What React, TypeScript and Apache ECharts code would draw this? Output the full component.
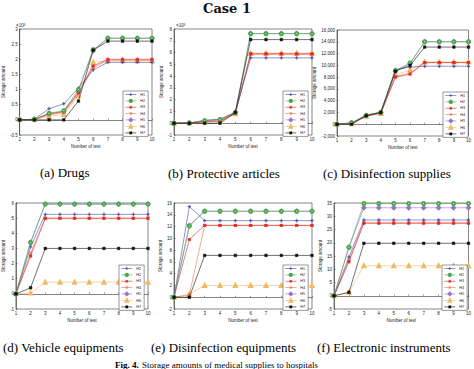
import React, { useEffect, useRef } from "react";
import * as echarts from "echarts";

// Number of test (x axis)
const tests = [1, 2, 3, 4, 5, 6, 7, 8, 9, 10];
const hospitals = ["H1", "H2", "H3", "H4", "H5", "H6", "H7"];

// (a) Drugs, in units of 10^4
const drugs = [
  [0, 0.02, 0.37, 0.53, 1.05, 1.65, 1.9, 1.9, 1.9, 1.9],
  [0, 0.02, 0.22, 0.3, 1.0, 2.32, 2.7, 2.7, 2.7, 2.7],
  [0, 0.01, 0.2, 0.27, 0.9, 1.78, 2.0, 2.0, 2.0, 2.0],
  [0, 0.01, 0.17, 0.24, 0.86, 1.72, 1.97, 1.97, 1.97, 1.97],
  [0, 0.02, 0.2, 0.28, 0.95, 2.28, 2.69, 2.69, 2.69, 2.69],
  [0, 0.01, 0.12, 0.18, 0.8, 1.9, 1.95, 1.95, 1.95, 1.95],
  [0, 0, 0, 0, 0.62, 2.3, 2.6, 2.6, 2.6, 2.6],
];
// (b) Protective articles, in units of 10^4
const protective = [
  [0, 0.02, 0.25, 0.35, 0.95, 5.55, 5.55, 5.55, 5.55, 5.55],
  [0, 0.02, 0.22, 0.32, 0.9, 7.6, 7.6, 7.6, 7.6, 7.6],
  [0, 0.01, 0.15, 0.2, 0.85, 5.9, 5.9, 5.9, 5.9, 5.9],
  [0, 0.01, 0.12, 0.18, 0.82, 5.85, 5.85, 5.85, 5.85, 5.85],
  [0, 0.02, 0.2, 0.3, 0.9, 7.62, 7.62, 7.62, 7.62, 7.62],
  [0, 0.01, 0.1, 0.15, 0.8, 5.95, 5.95, 5.95, 5.95, 5.95],
  [0, 0, 0, 0, 0.92, 7.1, 7.1, 7.1, 7.1, 7.1],
];
// (c) Disinfection supplies
const disinfSupplies = [
  [0, 200, 1550, 2050, 9300, 9700, 9850, 9850, 9850, 9850],
  [0, 250, 1500, 2000, 9100, 10400, 14000, 14000, 14000, 14000],
  [0, 150, 1400, 1850, 8000, 8500, 10500, 10500, 10500, 10500],
  [0, 150, 1450, 1900, 8100, 8700, 10450, 10450, 10450, 10450],
  [0, 250, 1500, 2000, 9000, 10300, 14000, 14000, 14000, 14000],
  [0, 100, 1350, 1800, 8400, 9200, 10550, 10550, 10550, 10550],
  [0, 0, 1450, 2000, 9000, 10000, 13100, 13100, 13100, 13100],
];
// (d) Vehicle equipments
const vehicle = [
  [0, 3.1, 5.25, 5.25, 5.25, 5.25, 5.25, 5.25, 5.25, 5.25],
  [0, 3.4, 5.93, 5.93, 5.93, 5.93, 5.93, 5.93, 5.93, 5.93],
  [0, 2.5, 5.0, 5.0, 5.0, 5.0, 5.0, 5.0, 5.0, 5.0],
  [0, 2.7, 4.97, 4.97, 4.97, 4.97, 4.97, 4.97, 4.97, 4.97],
  [0, 3.4, 5.93, 5.93, 5.93, 5.93, 5.93, 5.93, 5.93, 5.93],
  [0, 0.05, 0.77, 0.77, 0.77, 0.77, 0.77, 0.77, 0.77, 0.77],
  [0, 0.4, 3.0, 3.0, 3.0, 3.0, 3.0, 3.0, 3.0, 3.0],
];
// (e) Disinfection equipments
const disinfEquip = [
  [0, 15.4, 13.0, 13.0, 13.0, 13.0, 13.0, 13.0, 13.0, 13.0],
  [0, 12.1, 14.6, 14.6, 14.6, 14.6, 14.6, 14.6, 14.6, 14.6],
  [0, 9.8, 12.2, 12.2, 12.2, 12.2, 12.2, 12.2, 12.2, 12.2],
  [0, 0.4, 12.2, 12.2, 12.2, 12.2, 12.2, 12.2, 12.2, 12.2],
  [0, 12.2, 14.6, 14.6, 14.6, 14.6, 14.6, 14.6, 14.6, 14.6],
  [0, 0.5, 2.0, 2.0, 2.0, 2.0, 2.0, 2.0, 2.0, 2.0],
  [0, 0, 7.1, 7.1, 7.1, 7.1, 7.1, 7.1, 7.1, 7.1],
];
// (f) Electronic instruments
const electronic = [
  [0, 14.6, 28.6, 28.6, 28.6, 28.6, 28.6, 28.6, 28.6, 28.6],
  [0, 18.3, 34.8, 34.8, 34.8, 34.8, 34.8, 34.8, 34.8, 34.8],
  [0, 12.8, 27.3, 27.3, 27.3, 27.3, 27.3, 27.3, 27.3, 27.3],
  [0, 13.4, 27.7, 27.7, 27.7, 27.7, 27.7, 27.7, 27.7, 27.7],
  [0, 18.3, 33.2, 33.2, 33.2, 33.2, 33.2, 33.2, 33.2, 33.2],
  [0, 1.3, 11.3, 11.3, 11.3, 11.3, 11.3, 11.3, 11.3, 11.3],
  [0, 1.3, 19.8, 19.8, 19.8, 19.8, 19.8, 19.8, 19.8, 19.8],
];

const colors = ["#4a4ab0", "#4aa84a", "#e02525", "#f07040", "#9a70c8", "#f2b860", "#111111"];
const zOrder = [6, 7, 5, 4, 3, 2, 8];
const symbols = [
  "path://M4.3,0H5.7V4.3H10V5.7H5.7V10H4.3V5.7H0V4.3H4.3Z",
  "emptyCircle",
  "path://M4.5,0H5.5V10H4.5Z M0,4.5H10V5.5H0Z M1,0.3L9.7,9L9,9.7L0.3,1Z M9,0.3L9.7,1L1,9.7L0.3,9Z",
  "path://M1,0L5,4L9,0L10,1L6,5L10,9L9,10L5,6L1,10L0,9L4,5L0,1Z",
  "emptyDiamond",
  "emptyTriangle",
  "rect",
];

const panels = [
  { data: drugs, min: -0.5, max: 3, interval: 0.5, grid: { left: 15, top: 29, width: 137, height: 106 }, nameGap: 10 },
  { data: protective, min: -1, max: 8, interval: 1, grid: { left: 174, top: 29, width: 138, height: 106 }, nameGap: 10 },
  { data: disinfSupplies, min: -2000, max: 16000, interval: 2000, grid: { left: 337, top: 30, width: 135, height: 106 }, nameGap: 17 },
  { data: vehicle, min: -1, max: 6, interval: 1, grid: { left: 13, top: 203, width: 135, height: 106 }, nameGap: 9 },
  { data: disinfEquip, min: -2, max: 16, interval: 2, grid: { left: 174, top: 203, width: 138, height: 106 }, nameGap: 10 },
  { data: electronic, min: -5, max: 35, interval: 5, grid: { left: 334, top: 203, width: 137, height: 106 }, nameGap: 7.5 },
];

const captions = [
  { tag: "(a)", word: "Drugs", x: 40, y: 172 },
  { tag: "(b)", word: "Protective articles", x: 168, y: 173, split: "Protective " },
  { tag: "(c)", word: "Disinfection supplies", x: 323, y: 173, plain: true },
  { tag: "(d)", word: "Vehicle equipments", x: 3, y: 347, split: "Vehicle " },
  { tag: "(e)", word: "Disinfection equipments", x: 151, y: 347, split: "Disinfection " },
  { tag: "(f)", word: "Electronic instruments", x: 317, y: 347, plain: true },
];

const App: React.FC = () => {
  const ref = useRef<HTMLDivElement>(null);
  useEffect(() => {
    if (!ref.current) return;
    const chart = echarts.init(ref.current, undefined, { renderer: "svg" });
    const axisColor = "#333";
    const labelFont = { fontSize: 4.5, color: "#222", fontFamily: "Liberation Sans" };
    const grids = panels.map((p) => ({
      ...p.grid,
      show: true,
      borderColor: axisColor,
      borderWidth: 0.6,
      backgroundColor: "#fff",
    }));
    const xAxes = panels.map((p, i) => ({
      type: "value",
      gridIndex: i,
      min: 1,
      max: 10,
      interval: 1,
      name: "Number of test",
      nameLocation: "middle",
      nameGap: 8.5,
      nameTextStyle: labelFont,
      axisLine: { lineStyle: { color: axisColor, width: 0.6 } },
      axisTick: { inside: true, length: 1.5, lineStyle: { width: 0.5 } },
      axisLabel: { ...labelFont, margin: 2 },
      splitLine: { show: false },
    }));
    const yAxes = panels.map((p, i) => ({
      type: "value",
      gridIndex: i,
      min: p.min,
      max: p.max,
      interval: p.interval,
      name: "Storage amount",
      nameLocation: "middle",
      nameGap: p.nameGap,
      nameTextStyle: labelFont,
      axisLine: { lineStyle: { color: axisColor, width: 0.6 } },
      axisTick: { inside: true, length: 1.5, lineStyle: { width: 0.5 } },
      axisLabel: { ...labelFont, margin: 2 },
      splitLine: { show: false },
    }));
    const series: any[] = [];
    panels.forEach((p, pi) => {
      p.data.forEach((vals, h) => {
        series.push({
          type: "line",
          name: hospitals[h],
          xAxisIndex: pi,
          yAxisIndex: pi,
          data: tests.map((t, k) => [t, vals[k]]),
          symbol: symbols[h],
          symbolSize: h === 6 ? 2.6 : 3,
          showSymbol: true,
          lineStyle: { width: 0.6, color: colors[h] },
          itemStyle: { color: colors[h], borderColor: colors[h], borderWidth: 0.5 },
          z: zOrder[h],
        });
      });
    });
    const legends = panels.map((p) => {
      const g = p.grid;
      return {
        data: hospitals,
        orient: "vertical",
        left: g.left + g.width - 29,
        top: g.top + 62,
        itemWidth: 11,
        itemHeight: 3,
        itemGap: 2.2,
        padding: [1.5, 3, 1.5, 2],
        selectedMode: false,
        backgroundColor: "#fff",
        borderColor: "#333",
        borderWidth: 0.5,
        itemStyle: { borderWidth: 0.4 },
        lineStyle: { width: 0.6 },
        textStyle: { fontSize: 3.8, color: "#222", fontFamily: "Liberation Sans", padding: [0, 0, 0, -1] },
      };
    });
    const sup = { s: { fontSize: 3, verticalAlign: "top", padding: [0, 0, 2, 0] } };
    const graphics: any[] = [
      {
        type: "text",
        x: 227,
        y: 8,
        style: {
          text: "Case 1",
          font: "bold 13px 'DejaVu Serif'",
          fill: "#111",
          textAlign: "center",
          textVerticalAlign: "middle",
        },
      },
      {
        type: "text",
        x: 16,
        y: 23,
        style: { text: "×10{s|4}", fontSize: 4.5, fontFamily: "Liberation Sans", fill: "#222", rich: sup },
      },
      {
        type: "text",
        x: 176,
        y: 23,
        style: { text: "×10{s|4}", fontSize: 4.5, fontFamily: "Liberation Sans", fill: "#222", rich: sup },
      },
    ];
    captions.forEach((c: any) => {
      let text: string;
      if (c.plain) text = `{k|${c.tag} ${c.word}}`;
      else if (c.split) text = `{k|${c.tag} ${c.split}}{b|${c.word.slice(c.split.length)}}`;
      else text = `{k|${c.tag} }{b|${c.word}}`;
      graphics.push({
        type: "text",
        x: c.x,
        y: c.y,
        style: {
          text,
          textVerticalAlign: "middle",
          rich: {
            k: { fontSize: 13, fontFamily: "'Liberation Serif'", color: "#111" },
            b: { fontSize: 13, fontFamily: "'Liberation Serif'", color: "#3a3aa8" },
          },
        },
      });
    });
    graphics.push({
      type: "text",
      x: 115,
      y: 359,
      style: {
        text: "{f|Fig. 4.} {n|Storage amounts of medical supplies to hospitals}",
        rich: {
          f: { fontSize: 9, fontWeight: "bold", fontFamily: "'Liberation Serif'", color: "#111" },
          n: { fontSize: 9, fontFamily: "'Liberation Serif'", color: "#111" },
        },
      },
    });
    chart.setOption({
      animation: false,
      backgroundColor: "#fff",
      grid: grids,
      xAxis: xAxes,
      yAxis: yAxes,
      legend: legends,
      series,
      graphic: graphics,
    });
    return () => chart.dispose();
  }, []);
  return (
    <div
      ref={ref}
      style={{ position: "fixed", left: 0, top: 0, width: 474, height: 369, background: "#fff" }}
    />
  );
};

export default App;
